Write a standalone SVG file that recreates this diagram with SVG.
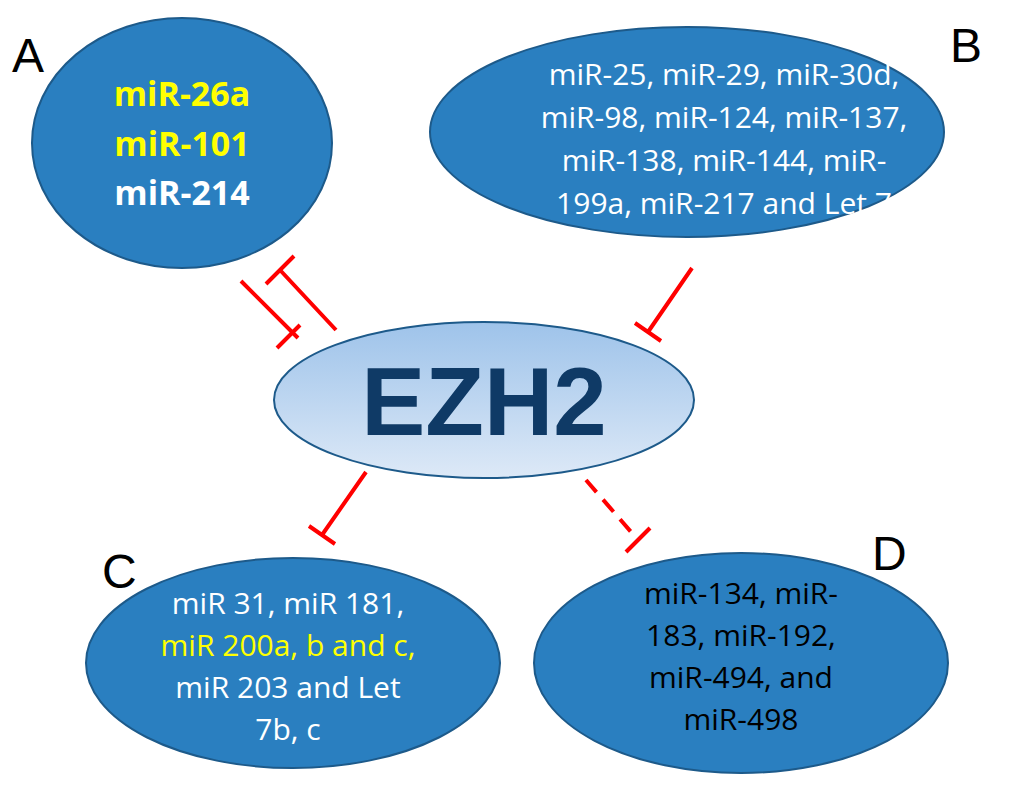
<svg xmlns="http://www.w3.org/2000/svg" width="1024" height="785" viewBox="0 0 1024 785">
<style>
.n{fill:#2a7fc0;stroke:#1d5a8a;stroke-width:2}
.t{font-family:"Open Sans","Liberation Sans",sans-serif;font-size:30px;fill:#fff;text-anchor:middle}
.b{font-weight:bold;font-size:34px}
.y{fill:#ffff00}
.k{fill:#000}
.L{font-family:"Liberation Sans",sans-serif;font-size:48px;fill:#000}
.c{stroke:#ff0000;stroke-width:4;fill:none}
</style>
<defs>
<linearGradient id="g" x1="0" y1="0" x2="0" y2="1">
<stop offset="0" stop-color="#9ec3ea"/><stop offset="1" stop-color="#dde9f7"/>
</linearGradient>
</defs>
<rect width="1024" height="785" fill="#fff"/>
<g id="connectors">
<path class="c" d="M241 281L298 338M277 348L300 325"/>
<path class="c" d="M336 330L280 270M266 284L294 256"/>
<path class="c" d="M692 268L648 332M635 323L661 341"/>
<path class="c" d="M366 472L322 535M309 526L335 544"/>
<path class="c" d="M586 480L638 540" stroke-dasharray="16,10"/>
<path class="c" d="M626 552L650 528"/>
</g>
<g id="A"><ellipse class="n" cx="182" cy="143" rx="150" ry="125"/>
<text class="t b y" x="182" y="106">miR-26a</text>
<text class="t b y" x="182" y="156">miR-101</text>
<text class="t b" x="182" y="205">miR-214</text>
<text class="L" x="12" y="72">A</text></g>
<g id="B"><ellipse class="n" cx="687" cy="132" rx="257" ry="105"/>
<text class="t" x="724" y="85">miR-25, miR-29, miR-30d,</text>
<text class="t" x="724" y="128">miR-98, miR-124, miR-137,</text>
<text class="t" x="724" y="171">miR-138, miR-144, miR-</text>
<text class="t" x="724" y="214">199a, miR-217 and Let 7</text>
<text class="L" x="950" y="62">B</text></g>
<g id="EZH2"><ellipse cx="484" cy="400" rx="210" ry="78" fill="url(#g)" stroke="#1d5a8a" stroke-width="2"/>
<text x="484" y="435" font-family="Liberation Sans,sans-serif" font-weight="bold" font-size="96" fill="#0f3a66" text-anchor="middle">EZH2</text></g>
<g id="C"><ellipse class="n" cx="293" cy="663" rx="207" ry="105"/>
<text class="t" x="288" y="614">miR 31, miR 181,</text>
<text class="t y" x="288" y="656">miR 200a, b and c,</text>
<text class="t" x="288" y="698">miR 203 and Let</text>
<text class="t" x="288" y="740">7b, c</text>
<text class="L" x="102" y="588">C</text></g>
<g id="D"><ellipse class="n" cx="741" cy="663" rx="207" ry="110"/>
<text class="t k" x="741" y="604">miR-134, miR-</text>
<text class="t k" x="741" y="646">183, miR-192,</text>
<text class="t k" x="741" y="688">miR-494, and</text>
<text class="t k" x="741" y="730">miR-498</text>
<text class="L" x="872" y="570">D</text></g>
</svg>
